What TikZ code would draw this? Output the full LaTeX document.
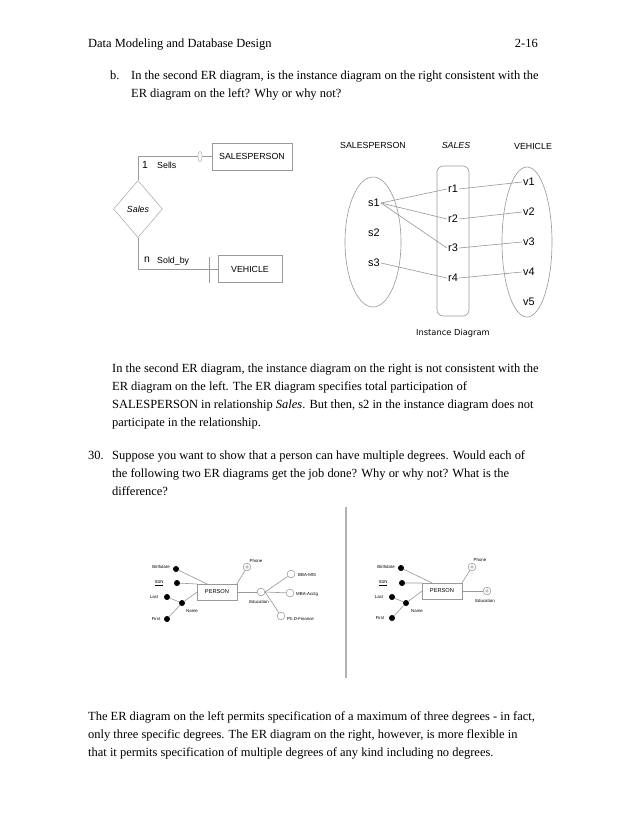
\documentclass[tikz,border=0pt]{standalone}
\usepackage{fontspec}
\setmainfont{Liberation Serif}
\newfontfamily\arialfont{Liberation Sans}
\newfontfamily\handfont{DejaVu Sans}
\usetikzlibrary{shapes.geometric}

\begin{document}
\begin{tikzpicture}[x=0.03384cm, y=-0.03384cm,
  line/.style={draw=gray!80, line width=0.6pt},
  txt/.style={anchor=base west, inner sep=0, font=\fontsize{12}{14}\selectfont},
  lab/.style={inner sep=0, font=\arialfont\fontsize{8.5}{10}\selectfont},
  entity/.style={draw=gray!80, lab, minimum height=26pt},
  elem/.style={inner sep=1pt, font=\arialfont\fontsize{10.5}{12}\selectfont},
  tiny/.style={inner sep=0, font=\arialfont\fontsize{4.2}{5}\selectfont},
  blob/.style={circle, fill=black, inner sep=0, minimum size=5.8pt},
  attr/.style={circle, draw=gray, fill=white, inner sep=0, minimum size=7.5pt},
  multi/.style={attr, path picture={\draw[gray] (path picture bounding box.center) circle (1.3pt);}},
  pbox/.style={draw=gray!80, inner sep=0, font=\arialfont\fontsize{5.5}{6}\selectfont, minimum width=38pt, minimum height=15pt}]
\useasboundingbox (0,0) rectangle (638,826);

% page text
\node[txt] (head) at (88,47) {Data Modeling and Database Design};
\node[txt, anchor=base east] (page) at (538,47) {2-16};
\node[txt] (qb) at (110,79) {b.};
\node[txt] (qb1) at (131,79) {In the second ER diagram, is the instance diagram on the right consistent with the};
\node[txt] (qb2) at (131,97) {ER diagram on the left? Why or why not?};
\node[txt] (an1) at (112,372) {In the second ER diagram, the instance diagram on the right is not consistent with the};
\node[txt] (an2) at (112,390) {ER diagram on the left. The ER diagram specifies total participation of};
\node[txt] (an3) at (112,408) {SALESPERSON in relationship \textit{Sales}. But then, s2 in the instance diagram does not};
\node[txt] (an4) at (112,426) {participate in the relationship.};
\node[txt] (q30) at (88,459) {30.};
\node[txt] (q1) at (112,459) {Suppose you want to show that a person can have multiple degrees. Would each of};
\node[txt] (q2) at (112,477) {the following two ER diagrams get the job done? Why or why not? What is the};
\node[txt] (q3) at (112,495) {difference?};
\node[txt] (fn1) at (88,720) {The ER diagram on the left permits specification of a maximum of three degrees - in fact,};
\node[txt] (fn2) at (88,738) {only three specific degrees. The ER diagram on the right, however, is more flexible in};
\node[txt] (fn3) at (88,756) {that it permits specification of multiple degrees of any kind including no degrees.};

% ER diagram
\node[entity, minimum width=77pt] (sp) at (252,156.5) {SALESPERSON};
\node[entity, minimum width=62pt] (vh) at (250,269) {VEHICLE};
\node[diamond, draw=gray!80, lab, font=\arialfont\itshape\fontsize{8.5}{10}\selectfont,
  minimum width=47pt, minimum height=55pt] (sales) at (138,209) {Sales};
\draw[line] (sales.north) |- (sp.west);
\draw[line] (sales.south) |- (vh.west);
\node[ellipse, draw=gray!80, fill=white, inner sep=0, minimum width=4pt, minimum height=10pt] (zero) at (200,156.5) {};
\draw[line] (209,257) -- (209,283);
\node[lab, font=\arialfont\fontsize{10}{12}\selectfont] (one) at (145,165) {1};
\node[lab, anchor=west] (sells) at (157,165) {Sells};
\node[lab, font=\arialfont\fontsize{10}{12}\selectfont] (many) at (147,260) {n};
\node[lab, anchor=west] (soldby) at (157,261) {Sold\_by};

% instance diagram
\node[lab] (hsp) at (373,145) {SALESPERSON};
\node[lab, font=\arialfont\itshape\fontsize{8.5}{10}\selectfont] (hsa) at (456,145) {SALES};
\node[lab] (hvh) at (533,146) {VEHICLE};
\draw[line] (373,242) ellipse [x radius=28, y radius=65];
\draw[line, rounded corners=6pt] (437,166) rectangle (469,316);
\draw[line] (527,242) ellipse [x radius=25, y radius=75];
\node[elem] (s1) at (374,203) {s1};
\node[elem] (s2) at (374,233) {s2};
\node[elem] (s3) at (374,263) {s3};
\node[elem] (r1) at (453,189) {r1};
\node[elem] (r2) at (453,219) {r2};
\node[elem] (r3) at (453,248) {r3};
\node[elem] (r4) at (453,278) {r4};
\node[elem] (v1) at (529,182) {v1};
\node[elem] (v2) at (529,212) {v2};
\node[elem] (v3) at (529,242) {v3};
\node[elem] (v4) at (529,272) {v4};
\node[elem] (v5) at (529,302) {v5};
\draw[line] (s1.east) -- (r1.west);
\draw[line] (s1.east) -- (r2.west);
\draw[line] (s1.east) -- (r3.west);
\draw[line] (s3.east) -- (r4.west);
\draw[line] (r1.east) -- (v1.west);
\draw[line] (r2.east) -- (v2.west);
\draw[line] (r3.east) -- (v3.west);
\draw[line] (r4.east) -- (v4.west);
\node[font=\handfont\fontsize{8}{10}\selectfont] (cap) at (453,333) {Instance Diagram};

% divider
\draw[gray!60, line width=1pt] (346,507) -- (346,678);

% left ER diagram (fixed degrees)
\node[pbox] (pa) at (217,592) {PERSON};
\node[blob] (bda) at (176,569) {};
\node[blob] (ssa) at (177,583) {};
\node[blob] (lsa) at (167,597) {};
\node[blob] (nma) at (182,603) {};
\node[blob] (fsa) at (167,619) {};
\node[multi] (pha) at (247,567) {};
\node[attr] (eda) at (261,592) {};
\node[attr] (dg1) at (291,574) {};
\node[attr] (dg2) at (290,593) {};
\node[attr] (dg3) at (281,616) {};
\node[tiny] (tbda) at (161,567) {Birthdate};
\node[tiny] (tssa) at (159,583) {\underline{SSN}};
\node[tiny] (tlsa) at (154,597) {Last};
\node[tiny] (tnma) at (192,611) {Name};
\node[tiny] (tfsa) at (156,619) {First};
\node[tiny] (tpha) at (256,561) {Phone};
\node[tiny] (teda) at (259,602) {Education};
\node[tiny, anchor=west] (tdg1) at (298,575) {BBA-MIS};
\node[tiny, anchor=west] (tdg2) at (296,594) {MBA-Acctg};
\node[tiny, anchor=west] (tdg3) at (287,619) {Ph.D-Finance};
\draw[line] (bda) -- (pa.141);
\draw[line] (ssa) -- (pa.north west);
\draw[line] (lsa) -- (nma) -- (fsa);
\draw[line] (nma) -- (pa.west);
\draw[line] (pa.north east) -- (pha);
\draw[line] (pa.east) -- (eda);
\draw[line] (eda.east) -- (dg1);
\draw[line] (eda.east) -- (dg2);
\draw[line] (eda.east) -- (dg3);

% right ER diagram (multivalued degree)
\node[pbox] (pb) at (442,591) {PERSON};
\node[blob] (bdb) at (401,568) {};
\node[blob] (ssb) at (402,583) {};
\node[blob] (lsb) at (392,597) {};
\node[blob] (nmb) at (406,603) {};
\node[blob] (fsb) at (392,618) {};
\node[multi] (phb) at (472,567) {};
\node[multi] (edb) at (487,591) {};
\node[tiny] (tbdb) at (386,567) {Birthdate};
\node[tiny] (tssb) at (383,583) {\underline{SSN}};
\node[tiny] (tlsb) at (379,597) {Last};
\node[tiny] (tnmb) at (417,611) {Name};
\node[tiny] (tfsb) at (380,618) {First};
\node[tiny] (tphb) at (480,560) {Phone};
\node[tiny] (tedb) at (485,601) {Education};
\draw[line] (bdb) -- (pb.141);
\draw[line] (ssb) -- (pb.north west);
\draw[line] (lsb) -- (nmb) -- (fsb);
\draw[line] (nmb) -- (pb.west);
\draw[line] (pb.north east) -- (phb);
\draw[line] (pb.east) -- (edb);
\end{tikzpicture}
\end{document}
